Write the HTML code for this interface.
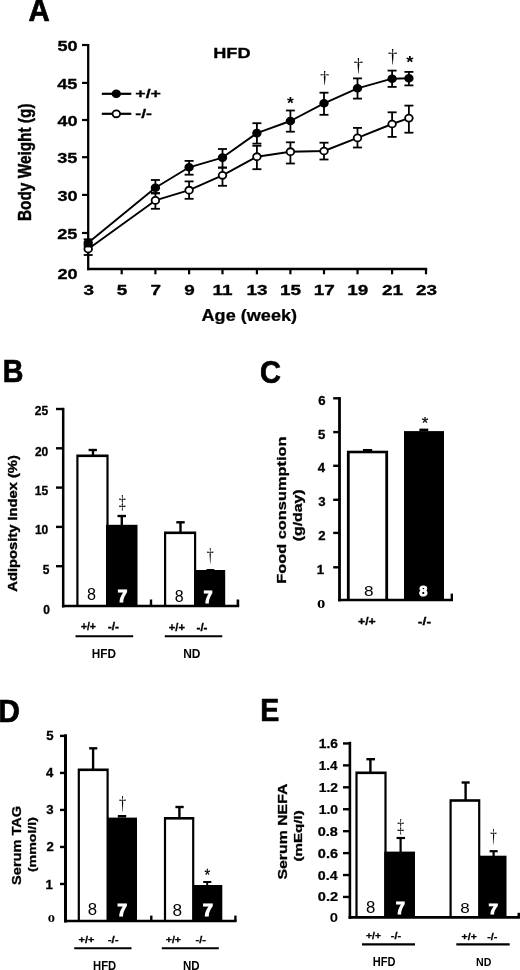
<!DOCTYPE html>
<html lang="en"><head><meta charset="utf-8"><title>Figure</title>
<style>html,body{margin:0;padding:0;background:#fff}svg{display:block}text{white-space:pre}</style></head>
<body><svg width="520" height="970" viewBox="0 0 520 970">
<rect width="520" height="970" fill="#fff"/>
<g id="panelA">
<text transform="translate(28.56,21.30) scale(0.931,1)" font-family='"Liberation Sans", Arial, sans-serif' font-size="31.59" font-weight="bold" fill="#000" stroke="#000" stroke-width="0.7">A</text>
<line x1="88.20" y1="44.00" x2="88.20" y2="270.15" stroke="#000" stroke-width="2.3" stroke-linecap="butt"/>
<line x1="87.05" y1="268.90" x2="427.20" y2="268.90" stroke="#000" stroke-width="2.5" stroke-linecap="butt"/>
<line x1="82.00" y1="45.00" x2="88.20" y2="45.00" stroke="#000" stroke-width="2.2" stroke-linecap="butt"/>
<text transform="translate(57.50,51.21) scale(1.300,1)" font-family='"Liberation Sans", Arial, sans-serif' font-size="13.94" font-weight="bold" fill="#000" stroke="#000" stroke-width="0.3">50</text>
<line x1="82.00" y1="82.90" x2="88.20" y2="82.90" stroke="#000" stroke-width="2.2" stroke-linecap="butt"/>
<text transform="translate(57.23,89.11) scale(1.300,1)" font-family='"Liberation Sans", Arial, sans-serif' font-size="13.94" font-weight="bold" fill="#000" stroke="#000" stroke-width="0.3">45</text>
<line x1="82.00" y1="120.00" x2="88.20" y2="120.00" stroke="#000" stroke-width="2.2" stroke-linecap="butt"/>
<text transform="translate(57.50,126.21) scale(1.300,1)" font-family='"Liberation Sans", Arial, sans-serif' font-size="13.94" font-weight="bold" fill="#000" stroke="#000" stroke-width="0.3">40</text>
<line x1="82.00" y1="157.20" x2="88.20" y2="157.20" stroke="#000" stroke-width="2.2" stroke-linecap="butt"/>
<text transform="translate(57.23,163.41) scale(1.300,1)" font-family='"Liberation Sans", Arial, sans-serif' font-size="13.94" font-weight="bold" fill="#000" stroke="#000" stroke-width="0.3">35</text>
<line x1="82.00" y1="194.90" x2="88.20" y2="194.90" stroke="#000" stroke-width="2.2" stroke-linecap="butt"/>
<text transform="translate(57.50,201.11) scale(1.300,1)" font-family='"Liberation Sans", Arial, sans-serif' font-size="13.94" font-weight="bold" fill="#000" stroke="#000" stroke-width="0.3">30</text>
<line x1="82.00" y1="233.00" x2="88.20" y2="233.00" stroke="#000" stroke-width="2.2" stroke-linecap="butt"/>
<text transform="translate(57.23,239.21) scale(1.300,1)" font-family='"Liberation Sans", Arial, sans-serif' font-size="13.94" font-weight="bold" fill="#000" stroke="#000" stroke-width="0.3">25</text>
<text transform="translate(57.50,279.41) scale(1.300,1)" font-family='"Liberation Sans", Arial, sans-serif' font-size="13.94" font-weight="bold" fill="#000" stroke="#000" stroke-width="0.3">20</text>
<text transform="translate(83.44,295.41) scale(1.330,1)" font-family='"Liberation Sans", Arial, sans-serif' font-size="14.23" font-weight="bold" fill="#000" stroke="#000" stroke-width="0.3">3</text>
<line x1="121.70" y1="268.90" x2="121.70" y2="274.30" stroke="#000" stroke-width="2.2" stroke-linecap="butt"/>
<text transform="translate(116.80,295.41) scale(1.330,1)" font-family='"Liberation Sans", Arial, sans-serif' font-size="14.23" font-weight="bold" fill="#000" stroke="#000" stroke-width="0.3">5</text>
<line x1="155.40" y1="268.90" x2="155.40" y2="274.30" stroke="#000" stroke-width="2.2" stroke-linecap="butt"/>
<text transform="translate(150.55,295.41) scale(1.330,1)" font-family='"Liberation Sans", Arial, sans-serif' font-size="14.23" font-weight="bold" fill="#000" stroke="#000" stroke-width="0.3">7</text>
<line x1="189.10" y1="268.90" x2="189.10" y2="274.30" stroke="#000" stroke-width="2.2" stroke-linecap="butt"/>
<text transform="translate(184.25,295.41) scale(1.330,1)" font-family='"Liberation Sans", Arial, sans-serif' font-size="14.23" font-weight="bold" fill="#000" stroke="#000" stroke-width="0.3">9</text>
<line x1="222.50" y1="268.90" x2="222.50" y2="274.30" stroke="#000" stroke-width="2.2" stroke-linecap="butt"/>
<text transform="translate(212.59,295.41) scale(1.330,1)" font-family='"Liberation Sans", Arial, sans-serif' font-size="14.23" font-weight="bold" fill="#000" stroke="#000" stroke-width="0.3">11</text>
<line x1="256.90" y1="268.90" x2="256.90" y2="274.30" stroke="#000" stroke-width="2.2" stroke-linecap="butt"/>
<text transform="translate(246.56,295.41) scale(1.330,1)" font-family='"Liberation Sans", Arial, sans-serif' font-size="14.23" font-weight="bold" fill="#000" stroke="#000" stroke-width="0.3">13</text>
<line x1="290.40" y1="268.90" x2="290.40" y2="274.30" stroke="#000" stroke-width="2.2" stroke-linecap="butt"/>
<text transform="translate(279.97,295.41) scale(1.330,1)" font-family='"Liberation Sans", Arial, sans-serif' font-size="14.23" font-weight="bold" fill="#000" stroke="#000" stroke-width="0.3">15</text>
<line x1="324.00" y1="268.90" x2="324.00" y2="274.30" stroke="#000" stroke-width="2.2" stroke-linecap="butt"/>
<text transform="translate(313.71,295.41) scale(1.330,1)" font-family='"Liberation Sans", Arial, sans-serif' font-size="14.23" font-weight="bold" fill="#000" stroke="#000" stroke-width="0.3">17</text>
<line x1="357.50" y1="268.90" x2="357.50" y2="274.30" stroke="#000" stroke-width="2.2" stroke-linecap="butt"/>
<text transform="translate(347.16,295.41) scale(1.330,1)" font-family='"Liberation Sans", Arial, sans-serif' font-size="14.23" font-weight="bold" fill="#000" stroke="#000" stroke-width="0.3">19</text>
<line x1="392.10" y1="268.90" x2="392.10" y2="274.30" stroke="#000" stroke-width="2.2" stroke-linecap="butt"/>
<text transform="translate(381.90,295.41) scale(1.330,1)" font-family='"Liberation Sans", Arial, sans-serif' font-size="14.23" font-weight="bold" fill="#000" stroke="#000" stroke-width="0.3">21</text>
<line x1="426.00" y1="268.90" x2="426.00" y2="274.30" stroke="#000" stroke-width="2.2" stroke-linecap="butt"/>
<text transform="translate(415.90,295.41) scale(1.330,1)" font-family='"Liberation Sans", Arial, sans-serif' font-size="14.23" font-weight="bold" fill="#000" stroke="#000" stroke-width="0.3">23</text>
<text transform="translate(201.55,321.00) scale(1.161,1)" font-family='"Liberation Sans", Arial, sans-serif' font-size="15.59" font-weight="bold" fill="#000" stroke="#000" stroke-width="0.25">Age (week)</text>
<text transform="translate(30.50,221.00) rotate(-90) scale(0.839,1)" font-family='"Liberation Sans", Arial, sans-serif' font-size="18.34" font-weight="bold" fill="#000" stroke="#000" stroke-width="0.45">Body Weight (g)</text>
<text transform="translate(213.22,57.80) scale(1.228,1)" font-family='"Liberation Sans", Arial, sans-serif' font-size="14.78" font-weight="bold" fill="#000" stroke="#000" stroke-width="0.3">HFD</text>
<line x1="101.80" y1="93.80" x2="131.30" y2="93.80" stroke="#000" stroke-width="2.2" stroke-linecap="butt"/>
<ellipse cx="116.30" cy="93.80" rx="4.0" ry="3.6" fill="#000" stroke="#000" stroke-width="1.4"/>
<line x1="101.80" y1="113.80" x2="131.30" y2="113.80" stroke="#000" stroke-width="2.2" stroke-linecap="butt"/>
<ellipse cx="116.30" cy="113.80" rx="3.8" ry="3.45" fill="#fff" stroke="#000" stroke-width="1.8"/>
<text transform="translate(135.29,98.35) scale(1.405,1)" font-family='"Liberation Sans", Arial, sans-serif' font-size="12.62" font-weight="bold" fill="#000" stroke="#000" stroke-width="0.3">+/+</text>
<text transform="translate(135.29,118.35) scale(1.402,1)" font-family='"Liberation Sans", Arial, sans-serif' font-size="12.62" font-weight="bold" fill="#000" stroke="#000" stroke-width="0.3">-/-</text>
<line x1="88.20" y1="245.00" x2="88.20" y2="255.00" stroke="#000" stroke-width="1.8" stroke-linecap="butt"/>
<line x1="83.70" y1="245.00" x2="92.70" y2="245.00" stroke="#000" stroke-width="1.8" stroke-linecap="butt"/>
<line x1="83.70" y1="255.00" x2="92.70" y2="255.00" stroke="#000" stroke-width="1.8" stroke-linecap="butt"/>
<line x1="155.40" y1="193.00" x2="155.40" y2="208.80" stroke="#000" stroke-width="1.8" stroke-linecap="butt"/>
<line x1="150.90" y1="193.00" x2="159.90" y2="193.00" stroke="#000" stroke-width="1.8" stroke-linecap="butt"/>
<line x1="150.90" y1="208.80" x2="159.90" y2="208.80" stroke="#000" stroke-width="1.8" stroke-linecap="butt"/>
<line x1="189.10" y1="181.40" x2="189.10" y2="198.80" stroke="#000" stroke-width="1.8" stroke-linecap="butt"/>
<line x1="184.60" y1="181.40" x2="193.60" y2="181.40" stroke="#000" stroke-width="1.8" stroke-linecap="butt"/>
<line x1="184.60" y1="198.80" x2="193.60" y2="198.80" stroke="#000" stroke-width="1.8" stroke-linecap="butt"/>
<line x1="222.50" y1="167.60" x2="222.50" y2="185.80" stroke="#000" stroke-width="1.8" stroke-linecap="butt"/>
<line x1="218.00" y1="167.60" x2="227.00" y2="167.60" stroke="#000" stroke-width="1.8" stroke-linecap="butt"/>
<line x1="218.00" y1="185.80" x2="227.00" y2="185.80" stroke="#000" stroke-width="1.8" stroke-linecap="butt"/>
<line x1="256.90" y1="145.80" x2="256.90" y2="169.20" stroke="#000" stroke-width="1.8" stroke-linecap="butt"/>
<line x1="252.40" y1="145.80" x2="261.40" y2="145.80" stroke="#000" stroke-width="1.8" stroke-linecap="butt"/>
<line x1="252.40" y1="169.20" x2="261.40" y2="169.20" stroke="#000" stroke-width="1.8" stroke-linecap="butt"/>
<line x1="290.40" y1="142.30" x2="290.40" y2="163.50" stroke="#000" stroke-width="1.8" stroke-linecap="butt"/>
<line x1="285.90" y1="142.30" x2="294.90" y2="142.30" stroke="#000" stroke-width="1.8" stroke-linecap="butt"/>
<line x1="285.90" y1="163.50" x2="294.90" y2="163.50" stroke="#000" stroke-width="1.8" stroke-linecap="butt"/>
<line x1="324.00" y1="142.70" x2="324.00" y2="159.50" stroke="#000" stroke-width="1.8" stroke-linecap="butt"/>
<line x1="319.50" y1="142.70" x2="328.50" y2="142.70" stroke="#000" stroke-width="1.8" stroke-linecap="butt"/>
<line x1="319.50" y1="159.50" x2="328.50" y2="159.50" stroke="#000" stroke-width="1.8" stroke-linecap="butt"/>
<line x1="357.50" y1="127.90" x2="357.50" y2="147.50" stroke="#000" stroke-width="1.8" stroke-linecap="butt"/>
<line x1="353.00" y1="127.90" x2="362.00" y2="127.90" stroke="#000" stroke-width="1.8" stroke-linecap="butt"/>
<line x1="353.00" y1="147.50" x2="362.00" y2="147.50" stroke="#000" stroke-width="1.8" stroke-linecap="butt"/>
<line x1="392.10" y1="112.30" x2="392.10" y2="136.90" stroke="#000" stroke-width="1.8" stroke-linecap="butt"/>
<line x1="387.60" y1="112.30" x2="396.60" y2="112.30" stroke="#000" stroke-width="1.8" stroke-linecap="butt"/>
<line x1="387.60" y1="136.90" x2="396.60" y2="136.90" stroke="#000" stroke-width="1.8" stroke-linecap="butt"/>
<line x1="408.90" y1="105.60" x2="408.90" y2="132.70" stroke="#000" stroke-width="1.8" stroke-linecap="butt"/>
<line x1="404.40" y1="105.60" x2="413.40" y2="105.60" stroke="#000" stroke-width="1.8" stroke-linecap="butt"/>
<line x1="404.40" y1="132.70" x2="413.40" y2="132.70" stroke="#000" stroke-width="1.8" stroke-linecap="butt"/>
<polyline fill="none" stroke="#000" stroke-width="1.9" stroke-linejoin="round" points="88.20,249.00 155.40,200.40 189.10,190.20 222.50,175.30 256.90,156.70 290.40,151.70 324.00,151.00 357.50,137.90 392.10,124.00 408.90,118.10"/>
<ellipse cx="88.20" cy="249.00" rx="3.8" ry="3.45" fill="#fff" stroke="#000" stroke-width="1.8"/>
<ellipse cx="155.40" cy="200.40" rx="3.8" ry="3.45" fill="#fff" stroke="#000" stroke-width="1.8"/>
<ellipse cx="189.10" cy="190.20" rx="3.8" ry="3.45" fill="#fff" stroke="#000" stroke-width="1.8"/>
<ellipse cx="222.50" cy="175.30" rx="3.8" ry="3.45" fill="#fff" stroke="#000" stroke-width="1.8"/>
<ellipse cx="256.90" cy="156.70" rx="3.8" ry="3.45" fill="#fff" stroke="#000" stroke-width="1.8"/>
<ellipse cx="290.40" cy="151.70" rx="3.8" ry="3.45" fill="#fff" stroke="#000" stroke-width="1.8"/>
<ellipse cx="324.00" cy="151.00" rx="3.8" ry="3.45" fill="#fff" stroke="#000" stroke-width="1.8"/>
<ellipse cx="357.50" cy="137.90" rx="3.8" ry="3.45" fill="#fff" stroke="#000" stroke-width="1.8"/>
<ellipse cx="392.10" cy="124.00" rx="3.8" ry="3.45" fill="#fff" stroke="#000" stroke-width="1.8"/>
<ellipse cx="408.90" cy="118.10" rx="3.8" ry="3.45" fill="#fff" stroke="#000" stroke-width="1.8"/>
<line x1="88.20" y1="239.30" x2="88.20" y2="246.50" stroke="#000" stroke-width="1.8" stroke-linecap="butt"/>
<line x1="83.70" y1="239.30" x2="92.70" y2="239.30" stroke="#000" stroke-width="1.8" stroke-linecap="butt"/>
<line x1="83.70" y1="246.50" x2="92.70" y2="246.50" stroke="#000" stroke-width="1.8" stroke-linecap="butt"/>
<line x1="155.40" y1="180.00" x2="155.40" y2="193.50" stroke="#000" stroke-width="1.8" stroke-linecap="butt"/>
<line x1="150.90" y1="180.00" x2="159.90" y2="180.00" stroke="#000" stroke-width="1.8" stroke-linecap="butt"/>
<line x1="150.90" y1="193.50" x2="159.90" y2="193.50" stroke="#000" stroke-width="1.8" stroke-linecap="butt"/>
<line x1="189.10" y1="160.90" x2="189.10" y2="174.70" stroke="#000" stroke-width="1.8" stroke-linecap="butt"/>
<line x1="184.60" y1="160.90" x2="193.60" y2="160.90" stroke="#000" stroke-width="1.8" stroke-linecap="butt"/>
<line x1="184.60" y1="174.70" x2="193.60" y2="174.70" stroke="#000" stroke-width="1.8" stroke-linecap="butt"/>
<line x1="222.50" y1="149.00" x2="222.50" y2="167.60" stroke="#000" stroke-width="1.8" stroke-linecap="butt"/>
<line x1="218.00" y1="149.00" x2="227.00" y2="149.00" stroke="#000" stroke-width="1.8" stroke-linecap="butt"/>
<line x1="218.00" y1="167.60" x2="227.00" y2="167.60" stroke="#000" stroke-width="1.8" stroke-linecap="butt"/>
<line x1="256.90" y1="123.20" x2="256.90" y2="143.60" stroke="#000" stroke-width="1.8" stroke-linecap="butt"/>
<line x1="252.40" y1="123.20" x2="261.40" y2="123.20" stroke="#000" stroke-width="1.8" stroke-linecap="butt"/>
<line x1="252.40" y1="143.60" x2="261.40" y2="143.60" stroke="#000" stroke-width="1.8" stroke-linecap="butt"/>
<line x1="290.40" y1="110.50" x2="290.40" y2="131.70" stroke="#000" stroke-width="1.8" stroke-linecap="butt"/>
<line x1="285.90" y1="110.50" x2="294.90" y2="110.50" stroke="#000" stroke-width="1.8" stroke-linecap="butt"/>
<line x1="285.90" y1="131.70" x2="294.90" y2="131.70" stroke="#000" stroke-width="1.8" stroke-linecap="butt"/>
<line x1="324.00" y1="92.70" x2="324.00" y2="114.80" stroke="#000" stroke-width="1.8" stroke-linecap="butt"/>
<line x1="319.50" y1="92.70" x2="328.50" y2="92.70" stroke="#000" stroke-width="1.8" stroke-linecap="butt"/>
<line x1="319.50" y1="114.80" x2="328.50" y2="114.80" stroke="#000" stroke-width="1.8" stroke-linecap="butt"/>
<line x1="357.50" y1="78.40" x2="357.50" y2="98.60" stroke="#000" stroke-width="1.8" stroke-linecap="butt"/>
<line x1="353.00" y1="78.40" x2="362.00" y2="78.40" stroke="#000" stroke-width="1.8" stroke-linecap="butt"/>
<line x1="353.00" y1="98.60" x2="362.00" y2="98.60" stroke="#000" stroke-width="1.8" stroke-linecap="butt"/>
<line x1="392.10" y1="70.60" x2="392.10" y2="86.90" stroke="#000" stroke-width="1.8" stroke-linecap="butt"/>
<line x1="387.60" y1="70.60" x2="396.60" y2="70.60" stroke="#000" stroke-width="1.8" stroke-linecap="butt"/>
<line x1="387.60" y1="86.90" x2="396.60" y2="86.90" stroke="#000" stroke-width="1.8" stroke-linecap="butt"/>
<line x1="408.90" y1="71.90" x2="408.90" y2="85.40" stroke="#000" stroke-width="1.8" stroke-linecap="butt"/>
<line x1="404.40" y1="71.90" x2="413.40" y2="71.90" stroke="#000" stroke-width="1.8" stroke-linecap="butt"/>
<line x1="404.40" y1="85.40" x2="413.40" y2="85.40" stroke="#000" stroke-width="1.8" stroke-linecap="butt"/>
<polyline fill="none" stroke="#000" stroke-width="1.9" stroke-linejoin="round" points="88.20,242.80 155.40,187.70 189.10,167.30 222.50,157.60 256.90,133.10 290.40,121.00 324.00,103.30 357.50,88.30 392.10,78.70 408.90,78.30"/>
<ellipse cx="88.20" cy="242.80" rx="4.0" ry="3.6" fill="#000" stroke="#000" stroke-width="1.4"/>
<ellipse cx="155.40" cy="187.70" rx="4.0" ry="3.6" fill="#000" stroke="#000" stroke-width="1.4"/>
<ellipse cx="189.10" cy="167.30" rx="4.0" ry="3.6" fill="#000" stroke="#000" stroke-width="1.4"/>
<ellipse cx="222.50" cy="157.60" rx="4.0" ry="3.6" fill="#000" stroke="#000" stroke-width="1.4"/>
<ellipse cx="256.90" cy="133.10" rx="4.0" ry="3.6" fill="#000" stroke="#000" stroke-width="1.4"/>
<ellipse cx="290.40" cy="121.00" rx="4.0" ry="3.6" fill="#000" stroke="#000" stroke-width="1.4"/>
<ellipse cx="324.00" cy="103.30" rx="4.0" ry="3.6" fill="#000" stroke="#000" stroke-width="1.4"/>
<ellipse cx="357.50" cy="88.30" rx="4.0" ry="3.6" fill="#000" stroke="#000" stroke-width="1.4"/>
<ellipse cx="392.10" cy="78.70" rx="4.0" ry="3.6" fill="#000" stroke="#000" stroke-width="1.4"/>
<ellipse cx="408.90" cy="78.30" rx="4.0" ry="3.6" fill="#000" stroke="#000" stroke-width="1.4"/>
<text transform="translate(287.11,108.88) scale(1.053,1)" font-family='"Liberation Sans", Arial, sans-serif' font-size="16.49" font-weight="bold" fill="#000">*</text>
<text transform="translate(406.31,67.76) scale(1.099,1)" font-family='"Liberation Sans", Arial, sans-serif' font-size="16.76" font-weight="bold" fill="#000">*</text>
<text transform="translate(320.04,83.05) scale(1.102,1)" font-family='"Liberation Serif", "Times New Roman", serif' font-size="16.91" font-weight="normal" fill="#000">†</text>
<text transform="translate(353.64,70.70) scale(1.020,1)" font-family='"Liberation Serif", "Times New Roman", serif' font-size="18.27" font-weight="normal" fill="#000">†</text>
<text transform="translate(388.04,62.01) scale(0.980,1)" font-family='"Liberation Serif", "Times New Roman", serif' font-size="19.01" font-weight="normal" fill="#000">†</text>
</g>
<g id="panelB">
<text transform="translate(2.64,382.40) scale(0.912,1)" font-family='"Liberation Sans", Arial, sans-serif' font-size="31.45" font-weight="bold" fill="#000" stroke="#000" stroke-width="0.7">B</text>
<rect x="76.30" y="454.50" width="32.30" height="151.50" fill="#000"/>
<rect x="78.50" y="457.10" width="27.90" height="148.90" fill="#fff"/>
<line x1="93.00" y1="450.00" x2="93.00" y2="455.50" stroke="#000" stroke-width="2.4" stroke-linecap="butt"/>
<line x1="88.60" y1="450.00" x2="96.90" y2="450.00" stroke="#000" stroke-width="2.4" stroke-linecap="butt"/>
<rect x="106.00" y="524.80" width="31.50" height="81.20" fill="#000"/>
<line x1="121.80" y1="516.00" x2="121.80" y2="526.00" stroke="#000" stroke-width="2.4" stroke-linecap="butt"/>
<line x1="117.50" y1="516.00" x2="126.00" y2="516.00" stroke="#000" stroke-width="2.4" stroke-linecap="butt"/>
<rect x="164.00" y="531.50" width="32.20" height="74.50" fill="#000"/>
<rect x="166.20" y="534.10" width="27.80" height="71.90" fill="#fff"/>
<line x1="180.50" y1="522.30" x2="180.50" y2="532.00" stroke="#000" stroke-width="2.4" stroke-linecap="butt"/>
<line x1="176.30" y1="522.30" x2="184.70" y2="522.30" stroke="#000" stroke-width="2.4" stroke-linecap="butt"/>
<rect x="195.50" y="570.00" width="29.70" height="36.00" fill="#000"/>
<line x1="206.50" y1="569.70" x2="214.30" y2="569.70" stroke="#000" stroke-width="1.4" stroke-linecap="butt"/>
<line x1="63.20" y1="407.80" x2="63.20" y2="607.50" stroke="#000" stroke-width="2.5" stroke-linecap="butt"/>
<line x1="61.95" y1="606.00" x2="239.20" y2="606.00" stroke="#000" stroke-width="2.6" stroke-linecap="butt"/>
<line x1="151.00" y1="599.50" x2="151.00" y2="606.00" stroke="#000" stroke-width="2.4" stroke-linecap="butt"/>
<line x1="237.90" y1="599.50" x2="237.90" y2="606.00" stroke="#000" stroke-width="2.6" stroke-linecap="butt"/>
<line x1="56.00" y1="409.00" x2="63.20" y2="409.00" stroke="#000" stroke-width="2.4" stroke-linecap="butt"/>
<text transform="translate(34.76,415.48) scale(0.970,1)" font-family='"Liberation Sans", Arial, sans-serif' font-size="12.39" font-weight="bold" fill="#000" stroke="#000" stroke-width="0.3">25</text>
<line x1="56.00" y1="448.30" x2="63.20" y2="448.30" stroke="#000" stroke-width="2.4" stroke-linecap="butt"/>
<text transform="translate(34.94,455.68) scale(0.970,1)" font-family='"Liberation Sans", Arial, sans-serif' font-size="12.39" font-weight="bold" fill="#000" stroke="#000" stroke-width="0.3">20</text>
<line x1="56.00" y1="487.60" x2="63.20" y2="487.60" stroke="#000" stroke-width="2.4" stroke-linecap="butt"/>
<text transform="translate(34.76,494.98) scale(0.970,1)" font-family='"Liberation Sans", Arial, sans-serif' font-size="12.39" font-weight="bold" fill="#000" stroke="#000" stroke-width="0.3">15</text>
<line x1="56.00" y1="526.90" x2="63.20" y2="526.90" stroke="#000" stroke-width="2.4" stroke-linecap="butt"/>
<text transform="translate(34.94,534.28) scale(0.970,1)" font-family='"Liberation Sans", Arial, sans-serif' font-size="12.39" font-weight="bold" fill="#000" stroke="#000" stroke-width="0.3">10</text>
<line x1="56.00" y1="566.20" x2="63.20" y2="566.20" stroke="#000" stroke-width="2.4" stroke-linecap="butt"/>
<text transform="translate(42.63,573.58) scale(0.970,1)" font-family='"Liberation Sans", Arial, sans-serif' font-size="12.39" font-weight="bold" fill="#000" stroke="#000" stroke-width="0.3">5</text>
<text transform="translate(43.31,613.58) scale(0.970,1)" font-family='"Liberation Sans", Arial, sans-serif' font-size="12.39" font-weight="bold" fill="#000" stroke="#000" stroke-width="0.3">0</text>
<text transform="translate(17.20,591.67) rotate(-90) scale(1.148,1)" font-family='"Liberation Sans", Arial, sans-serif' font-size="12.83" font-weight="bold" fill="#000" stroke="#000" stroke-width="0.35">Adiposity Index (%)</text>
<text transform="translate(87.07,600.34) scale(1.025,1)" font-family='"Liberation Sans", Arial, sans-serif' font-size="15.77" font-weight="normal" fill="#000">8</text>
<text transform="translate(174.78,602.13) scale(0.952,1)" font-family='"Liberation Sans", Arial, sans-serif' font-size="16.76" font-weight="normal" fill="#000">8</text>
<text transform="translate(117.87,602.15) scale(0.981,1)" font-family='"Liberation Sans", Arial, sans-serif' font-size="17.39" font-weight="bold" fill="#fff" stroke="#fff" stroke-width="1.2">7</text>
<text transform="translate(203.73,602.95) scale(0.927,1)" font-family='"Liberation Sans", Arial, sans-serif' font-size="16.81" font-weight="bold" fill="#fff" stroke="#fff" stroke-width="1.2">7</text>
<text transform="translate(118.84,508.39) scale(0.740,1)" font-family='"Liberation Serif", "Times New Roman", serif' font-size="19.26" font-weight="normal" fill="#000">‡</text>
<text transform="translate(206.73,560.84) scale(0.740,1)" font-family='"Liberation Serif", "Times New Roman", serif' font-size="18.77" font-weight="normal" fill="#000">†</text>
<text transform="translate(80.88,630.40) scale(1.020,1)" font-family='"Liberation Sans", Arial, sans-serif' font-size="10.20" font-weight="bold" fill="#000" stroke="#000" stroke-width="0.3">+/+</text>
<text transform="translate(107.72,630.40) scale(1.179,1)" font-family='"Liberation Sans", Arial, sans-serif' font-size="10.20" font-weight="bold" fill="#000" stroke="#000" stroke-width="0.3">-/-</text>
<text transform="translate(168.85,631.09) scale(1.077,1)" font-family='"Liberation Sans", Arial, sans-serif' font-size="10.34" font-weight="bold" fill="#000" stroke="#000" stroke-width="0.3">+/+</text>
<text transform="translate(196.54,631.09) scale(1.119,1)" font-family='"Liberation Sans", Arial, sans-serif' font-size="10.34" font-weight="bold" fill="#000" stroke="#000" stroke-width="0.3">-/-</text>
<line x1="75.50" y1="636.20" x2="133.20" y2="636.20" stroke="#000" stroke-width="2" stroke-linecap="butt"/>
<line x1="164.80" y1="636.20" x2="222.30" y2="636.20" stroke="#000" stroke-width="2" stroke-linecap="butt"/>
<text transform="translate(91.73,658.20) scale(0.969,1)" font-family='"Liberation Sans", Arial, sans-serif' font-size="12.17" font-weight="bold" fill="#000">HFD</text>
<text transform="translate(183.22,658.20) scale(0.919,1)" font-family='"Liberation Sans", Arial, sans-serif' font-size="13.04" font-weight="bold" fill="#000">ND</text>
</g>
<g id="panelC">
<text transform="translate(259.94,382.68) scale(0.907,1)" font-family='"Liberation Sans", Arial, sans-serif' font-size="31.97" font-weight="bold" fill="#000" stroke="#000" stroke-width="0.7">C</text>
<rect x="346.90" y="450.70" width="41.20" height="149.30" fill="#000"/>
<rect x="349.70" y="453.30" width="35.60" height="146.70" fill="#fff"/>
<line x1="363.00" y1="450.00" x2="372.20" y2="450.00" stroke="#000" stroke-width="2" stroke-linecap="butt"/>
<rect x="404.00" y="431.10" width="40.00" height="168.90" fill="#000"/>
<line x1="419.40" y1="429.90" x2="428.30" y2="429.90" stroke="#000" stroke-width="2.6" stroke-linecap="butt"/>
<line x1="339.50" y1="397.10" x2="339.50" y2="601.35" stroke="#000" stroke-width="2.8" stroke-linecap="butt"/>
<line x1="338.10" y1="600.00" x2="453.00" y2="600.00" stroke="#000" stroke-width="2.7" stroke-linecap="butt"/>
<line x1="451.80" y1="593.60" x2="451.80" y2="600.00" stroke="#000" stroke-width="2.4" stroke-linecap="butt"/>
<line x1="333.20" y1="567.30" x2="339.50" y2="567.30" stroke="#000" stroke-width="2.4" stroke-linecap="butt"/>
<text transform="translate(316.82,573.93) scale(1.100,1)" font-family='"Liberation Sans", Arial, sans-serif' font-size="11.97" font-weight="bold" fill="#000" stroke="#000" stroke-width="0.3">1</text>
<line x1="333.20" y1="532.90" x2="339.50" y2="532.90" stroke="#000" stroke-width="2.4" stroke-linecap="butt"/>
<text transform="translate(318.22,539.53) scale(1.100,1)" font-family='"Liberation Sans", Arial, sans-serif' font-size="11.97" font-weight="bold" fill="#000" stroke="#000" stroke-width="0.3">2</text>
<line x1="333.20" y1="499.80" x2="339.50" y2="499.80" stroke="#000" stroke-width="2.4" stroke-linecap="butt"/>
<text transform="translate(318.15,506.43) scale(1.100,1)" font-family='"Liberation Sans", Arial, sans-serif' font-size="11.97" font-weight="bold" fill="#000" stroke="#000" stroke-width="0.3">3</text>
<line x1="333.20" y1="465.80" x2="339.50" y2="465.80" stroke="#000" stroke-width="2.4" stroke-linecap="butt"/>
<text transform="translate(317.76,472.43) scale(1.100,1)" font-family='"Liberation Sans", Arial, sans-serif' font-size="11.97" font-weight="bold" fill="#000" stroke="#000" stroke-width="0.3">4</text>
<line x1="333.20" y1="432.10" x2="339.50" y2="432.10" stroke="#000" stroke-width="2.4" stroke-linecap="butt"/>
<text transform="translate(318.02,438.73) scale(1.100,1)" font-family='"Liberation Sans", Arial, sans-serif' font-size="11.97" font-weight="bold" fill="#000" stroke="#000" stroke-width="0.3">5</text>
<line x1="333.20" y1="398.30" x2="339.50" y2="398.30" stroke="#000" stroke-width="2.4" stroke-linecap="butt"/>
<text transform="translate(318.15,404.93) scale(1.100,1)" font-family='"Liberation Sans", Arial, sans-serif' font-size="11.97" font-weight="bold" fill="#000" stroke="#000" stroke-width="0.3">6</text>
<text transform="translate(316.93,607.68) scale(1.406,1)" font-family='"Liberation Serif", "Times New Roman", serif' font-size="11.85" font-weight="bold" fill="#000">0</text>
<text transform="translate(286.40,583.76) rotate(-90) scale(1.305,1)" font-family='"Liberation Sans", Arial, sans-serif' font-size="12.55" font-weight="bold" fill="#000" stroke="#000" stroke-width="0.3">Food consumption</text>
<text transform="translate(301.68,541.29) rotate(-90) scale(1.323,1)" font-family='"Liberation Sans", Arial, sans-serif' font-size="11.98" font-weight="bold" fill="#000" stroke="#000" stroke-width="0.3">(g/day)</text>
<text transform="translate(363.92,595.75) scale(1.144,1)" font-family='"Liberation Sans", Arial, sans-serif' font-size="15.07" font-weight="normal" fill="#000">8</text>
<text transform="translate(419.26,596.45) scale(0.952,1)" font-family='"Liberation Sans", Arial, sans-serif' font-size="15.49" font-weight="bold" fill="#fff" stroke="#fff" stroke-width="1.0">8</text>
<text transform="translate(421.75,429.03) scale(0.972,1)" font-family='"Liberation Sans", Arial, sans-serif' font-size="17.43" font-weight="normal" fill="#000" stroke="#000" stroke-width="0.25">*</text>
<text transform="translate(358.01,624.59) scale(1.169,1)" font-family='"Liberation Sans", Arial, sans-serif' font-size="10.47" font-weight="bold" fill="#000" stroke="#000" stroke-width="0.3">+/+</text>
<text transform="translate(417.84,624.59) scale(1.347,1)" font-family='"Liberation Sans", Arial, sans-serif' font-size="10.47" font-weight="bold" fill="#000" stroke="#000" stroke-width="0.3">-/-</text>
</g>
<g id="panelD">
<text transform="translate(-1.64,721.70) scale(0.965,1)" font-family='"Liberation Sans", Arial, sans-serif' font-size="31.01" font-weight="bold" fill="#000" stroke="#000" stroke-width="0.7">D</text>
<rect x="77.70" y="768.50" width="31.00" height="152.50" fill="#000"/>
<rect x="79.90" y="771.10" width="26.60" height="149.90" fill="#fff"/>
<line x1="93.10" y1="748.30" x2="93.10" y2="769.00" stroke="#000" stroke-width="2.4" stroke-linecap="butt"/>
<line x1="89.20" y1="748.30" x2="97.30" y2="748.30" stroke="#000" stroke-width="2.4" stroke-linecap="butt"/>
<rect x="107.00" y="817.60" width="30.00" height="103.40" fill="#000"/>
<line x1="117.80" y1="816.30" x2="126.20" y2="816.30" stroke="#000" stroke-width="2.6" stroke-linecap="butt"/>
<rect x="163.90" y="817.00" width="30.40" height="104.00" fill="#000"/>
<rect x="166.10" y="819.60" width="26.00" height="101.40" fill="#fff"/>
<line x1="179.40" y1="807.00" x2="179.40" y2="818.00" stroke="#000" stroke-width="2.4" stroke-linecap="butt"/>
<line x1="175.40" y1="807.00" x2="183.70" y2="807.00" stroke="#000" stroke-width="2.4" stroke-linecap="butt"/>
<rect x="193.60" y="885.00" width="28.70" height="36.00" fill="#000"/>
<line x1="207.20" y1="882.00" x2="207.20" y2="886.00" stroke="#000" stroke-width="2" stroke-linecap="butt"/>
<line x1="203.20" y1="882.00" x2="211.30" y2="882.00" stroke="#000" stroke-width="2" stroke-linecap="butt"/>
<line x1="65.50" y1="734.30" x2="65.50" y2="922.50" stroke="#000" stroke-width="3" stroke-linecap="butt"/>
<line x1="64.20" y1="921.00" x2="236.60" y2="921.00" stroke="#000" stroke-width="2.6" stroke-linecap="butt"/>
<line x1="151.30" y1="915.60" x2="151.30" y2="921.00" stroke="#000" stroke-width="2.4" stroke-linecap="butt"/>
<line x1="235.40" y1="915.60" x2="235.40" y2="921.00" stroke="#000" stroke-width="2.4" stroke-linecap="butt"/>
<line x1="60.00" y1="883.98" x2="65.50" y2="883.98" stroke="#000" stroke-width="2.4" stroke-linecap="butt"/>
<text transform="translate(45.42,888.51) scale(1.100,1)" font-family='"Liberation Sans", Arial, sans-serif' font-size="11.97" font-weight="bold" fill="#000" stroke="#000" stroke-width="0.3">1</text>
<line x1="60.00" y1="846.96" x2="65.50" y2="846.96" stroke="#000" stroke-width="2.4" stroke-linecap="butt"/>
<text transform="translate(46.42,851.49) scale(1.100,1)" font-family='"Liberation Sans", Arial, sans-serif' font-size="11.97" font-weight="bold" fill="#000" stroke="#000" stroke-width="0.3">2</text>
<line x1="60.00" y1="809.94" x2="65.50" y2="809.94" stroke="#000" stroke-width="2.4" stroke-linecap="butt"/>
<text transform="translate(46.35,814.47) scale(1.100,1)" font-family='"Liberation Sans", Arial, sans-serif' font-size="11.97" font-weight="bold" fill="#000" stroke="#000" stroke-width="0.3">3</text>
<line x1="60.00" y1="772.92" x2="65.50" y2="772.92" stroke="#000" stroke-width="2.4" stroke-linecap="butt"/>
<text transform="translate(45.96,777.45) scale(1.100,1)" font-family='"Liberation Sans", Arial, sans-serif' font-size="11.97" font-weight="bold" fill="#000" stroke="#000" stroke-width="0.3">4</text>
<line x1="60.00" y1="735.90" x2="65.50" y2="735.90" stroke="#000" stroke-width="2.4" stroke-linecap="butt"/>
<text transform="translate(46.22,740.43) scale(1.100,1)" font-family='"Liberation Sans", Arial, sans-serif' font-size="11.97" font-weight="bold" fill="#000" stroke="#000" stroke-width="0.3">5</text>
<text transform="translate(47.72,922.30) scale(1.485,1)" font-family='"Liberation Serif", "Times New Roman", serif' font-size="9.78" font-weight="bold" fill="#000">0</text>
<text transform="translate(21.40,884.94) rotate(-90) scale(1.075,1)" font-family='"Liberation Sans", Arial, sans-serif' font-size="13.57" font-weight="bold" fill="#000" stroke="#000" stroke-width="0.3">Serum TAG</text>
<text transform="translate(36.46,872.11) rotate(-90) scale(1.274,1)" font-family='"Liberation Sans", Arial, sans-serif' font-size="11.12" font-weight="bold" fill="#000" stroke="#000" stroke-width="0.3">(mmol/l)</text>
<text transform="translate(87.74,915.24) scale(1.075,1)" font-family='"Liberation Sans", Arial, sans-serif' font-size="15.63" font-weight="normal" fill="#000">8</text>
<text transform="translate(172.42,915.64) scale(1.093,1)" font-family='"Liberation Sans", Arial, sans-serif' font-size="15.77" font-weight="normal" fill="#000">8</text>
<text transform="translate(117.57,915.95) scale(1.051,1)" font-family='"Liberation Sans", Arial, sans-serif' font-size="16.23" font-weight="bold" fill="#fff" stroke="#fff" stroke-width="1.2">7</text>
<text transform="translate(202.94,915.95) scale(1.130,1)" font-family='"Liberation Sans", Arial, sans-serif' font-size="15.65" font-weight="bold" fill="#fff" stroke="#fff" stroke-width="1.2">7</text>
<text transform="translate(118.96,809.30) scale(0.740,1)" font-family='"Liberation Serif", "Times New Roman", serif' font-size="19.14" font-weight="normal" fill="#000">†</text>
<text transform="translate(204.48,880.83) scale(0.888,1)" font-family='"Liberation Sans", Arial, sans-serif' font-size="16.57" font-weight="normal" fill="#000" stroke="#000" stroke-width="0.25">*</text>
<text transform="translate(78.56,943.01) scale(1.170,1)" font-family='"Liberation Sans", Arial, sans-serif' font-size="9.40" font-weight="bold" fill="#000" stroke="#000" stroke-width="0.3">+/+</text>
<text transform="translate(107.74,943.00) scale(1.164,1)" font-family='"Liberation Sans", Arial, sans-serif' font-size="9.93" font-weight="bold" fill="#000" stroke="#000" stroke-width="0.3">-/-</text>
<text transform="translate(165.78,943.01) scale(1.123,1)" font-family='"Liberation Sans", Arial, sans-serif' font-size="9.40" font-weight="bold" fill="#000" stroke="#000" stroke-width="0.3">+/+</text>
<text transform="translate(195.56,943.00) scale(1.117,1)" font-family='"Liberation Sans", Arial, sans-serif' font-size="9.93" font-weight="bold" fill="#000" stroke="#000" stroke-width="0.3">-/-</text>
<line x1="74.20" y1="948.20" x2="131.50" y2="948.20" stroke="#000" stroke-width="2.1" stroke-linecap="butt"/>
<line x1="161.80" y1="948.20" x2="218.80" y2="948.20" stroke="#000" stroke-width="2.1" stroke-linecap="butt"/>
<text transform="translate(93.07,970.00) scale(0.846,1)" font-family='"Liberation Sans", Arial, sans-serif' font-size="13.33" font-weight="bold" fill="#000">HFD</text>
<text transform="translate(183.05,970.00) scale(0.865,1)" font-family='"Liberation Sans", Arial, sans-serif' font-size="13.33" font-weight="bold" fill="#000">ND</text>
</g>
<g id="panelE">
<text transform="translate(260.25,721.40) scale(0.898,1)" font-family='"Liberation Sans", Arial, sans-serif' font-size="31.74" font-weight="bold" fill="#000" stroke="#000" stroke-width="0.7">E</text>
<rect x="355.40" y="771.50" width="31.20" height="145.80" fill="#000"/>
<rect x="357.60" y="774.10" width="26.80" height="143.20" fill="#fff"/>
<line x1="370.40" y1="759.20" x2="370.40" y2="772.00" stroke="#000" stroke-width="2.4" stroke-linecap="butt"/>
<line x1="366.40" y1="759.20" x2="375.00" y2="759.20" stroke="#000" stroke-width="2.4" stroke-linecap="butt"/>
<rect x="384.20" y="851.60" width="30.80" height="65.70" fill="#000"/>
<line x1="400.60" y1="838.00" x2="400.60" y2="852.00" stroke="#000" stroke-width="2.2" stroke-linecap="butt"/>
<line x1="396.60" y1="838.00" x2="405.00" y2="838.00" stroke="#000" stroke-width="2.2" stroke-linecap="butt"/>
<rect x="449.50" y="799.20" width="30.80" height="118.10" fill="#000"/>
<rect x="451.70" y="801.80" width="26.40" height="115.50" fill="#fff"/>
<line x1="465.60" y1="782.50" x2="465.60" y2="800.00" stroke="#000" stroke-width="2.4" stroke-linecap="butt"/>
<line x1="461.60" y1="782.50" x2="469.70" y2="782.50" stroke="#000" stroke-width="2.4" stroke-linecap="butt"/>
<rect x="479.80" y="855.70" width="26.70" height="61.60" fill="#000"/>
<line x1="493.60" y1="851.20" x2="493.60" y2="856.00" stroke="#000" stroke-width="2.2" stroke-linecap="butt"/>
<line x1="489.60" y1="851.20" x2="497.70" y2="851.20" stroke="#000" stroke-width="2.2" stroke-linecap="butt"/>
<line x1="349.90" y1="741.80" x2="349.90" y2="918.90" stroke="#000" stroke-width="2.6" stroke-linecap="butt"/>
<line x1="348.60" y1="917.30" x2="520.00" y2="917.30" stroke="#000" stroke-width="2.8" stroke-linecap="butt"/>
<line x1="518.80" y1="912.80" x2="518.80" y2="917.30" stroke="#000" stroke-width="2.6" stroke-linecap="butt"/>
<line x1="343.00" y1="896.96" x2="349.90" y2="896.96" stroke="#000" stroke-width="2.4" stroke-linecap="butt"/>
<text transform="translate(317.82,901.44) scale(1.176,1)" font-family='"Liberation Sans", Arial, sans-serif' font-size="12.39" font-weight="bold" fill="#000" stroke="#000" stroke-width="0.25">0.2</text>
<line x1="343.00" y1="875.03" x2="349.90" y2="875.03" stroke="#000" stroke-width="2.4" stroke-linecap="butt"/>
<text transform="translate(317.83,879.51) scale(1.146,1)" font-family='"Liberation Sans", Arial, sans-serif' font-size="12.39" font-weight="bold" fill="#000" stroke="#000" stroke-width="0.25">0.4</text>
<line x1="343.00" y1="853.10" x2="349.90" y2="853.10" stroke="#000" stroke-width="2.4" stroke-linecap="butt"/>
<text transform="translate(317.82,857.58) scale(1.172,1)" font-family='"Liberation Sans", Arial, sans-serif' font-size="12.39" font-weight="bold" fill="#000" stroke="#000" stroke-width="0.25">0.6</text>
<line x1="343.00" y1="831.17" x2="349.90" y2="831.17" stroke="#000" stroke-width="2.4" stroke-linecap="butt"/>
<text transform="translate(317.82,835.65) scale(1.167,1)" font-family='"Liberation Sans", Arial, sans-serif' font-size="12.39" font-weight="bold" fill="#000" stroke="#000" stroke-width="0.25">0.8</text>
<line x1="343.00" y1="809.24" x2="349.90" y2="809.24" stroke="#000" stroke-width="2.4" stroke-linecap="butt"/>
<text transform="translate(318.77,813.72) scale(1.120,1)" font-family='"Liberation Sans", Arial, sans-serif' font-size="12.39" font-weight="bold" fill="#000" stroke="#000" stroke-width="0.25">1.0</text>
<line x1="343.00" y1="787.31" x2="349.90" y2="787.31" stroke="#000" stroke-width="2.4" stroke-linecap="butt"/>
<text transform="translate(318.77,791.91) scale(1.104,1)" font-family='"Liberation Sans", Arial, sans-serif' font-size="12.57" font-weight="bold" fill="#000" stroke="#000" stroke-width="0.25">1.2</text>
<line x1="343.00" y1="765.38" x2="349.90" y2="765.38" stroke="#000" stroke-width="2.4" stroke-linecap="butt"/>
<text transform="translate(318.79,769.98) scale(1.059,1)" font-family='"Liberation Sans", Arial, sans-serif' font-size="12.75" font-weight="bold" fill="#000" stroke="#000" stroke-width="0.25">1.4</text>
<line x1="343.00" y1="743.45" x2="349.90" y2="743.45" stroke="#000" stroke-width="2.4" stroke-linecap="butt"/>
<text transform="translate(318.77,747.93) scale(1.115,1)" font-family='"Liberation Sans", Arial, sans-serif' font-size="12.39" font-weight="bold" fill="#000" stroke="#000" stroke-width="0.25">1.6</text>
<text transform="translate(329.80,922.18) scale(1.249,1)" font-family='"Liberation Sans", Arial, sans-serif' font-size="11.97" font-weight="bold" fill="#000">0</text>
<text transform="translate(287.20,879.48) rotate(-90) scale(1.179,1)" font-family='"Liberation Sans", Arial, sans-serif' font-size="13.43" font-weight="bold" fill="#000" stroke="#000" stroke-width="0.3">Serum NEFA</text>
<text transform="translate(301.86,861.46) rotate(-90) scale(1.358,1)" font-family='"Liberation Sans", Arial, sans-serif' font-size="11.12" font-weight="bold" fill="#000" stroke="#000" stroke-width="0.3">(mEq/l)</text>
<text transform="translate(365.94,912.94) scale(1.075,1)" font-family='"Liberation Sans", Arial, sans-serif' font-size="15.63" font-weight="normal" fill="#000">8</text>
<text transform="translate(460.13,912.85) scale(1.099,1)" font-family='"Liberation Sans", Arial, sans-serif' font-size="15.49" font-weight="normal" fill="#000">8</text>
<text transform="translate(396.12,914.35) scale(0.973,1)" font-family='"Liberation Sans", Arial, sans-serif' font-size="16.23" font-weight="bold" fill="#fff" stroke="#fff" stroke-width="1.2">7</text>
<text transform="translate(488.79,913.85) scale(1.059,1)" font-family='"Liberation Sans", Arial, sans-serif' font-size="15.51" font-weight="bold" fill="#fff" stroke="#fff" stroke-width="1.2">7</text>
<text transform="translate(397.17,831.87) scale(0.740,1)" font-family='"Liberation Serif", "Times New Roman", serif' font-size="18.52" font-weight="normal" fill="#000">‡</text>
<text transform="translate(490.31,842.36) scale(0.740,1)" font-family='"Liberation Serif", "Times New Roman", serif' font-size="17.78" font-weight="normal" fill="#000">†</text>
<text transform="translate(365.99,939.41) scale(1.069,1)" font-family='"Liberation Sans", Arial, sans-serif' font-size="9.66" font-weight="bold" fill="#000" stroke="#000" stroke-width="0.3">+/+</text>
<text transform="translate(390.86,939.41) scale(1.136,1)" font-family='"Liberation Sans", Arial, sans-serif' font-size="9.66" font-weight="bold" fill="#000" stroke="#000" stroke-width="0.3">-/-</text>
<text transform="translate(461.58,939.81) scale(1.092,1)" font-family='"Liberation Sans", Arial, sans-serif' font-size="9.66" font-weight="bold" fill="#000" stroke="#000" stroke-width="0.3">+/+</text>
<text transform="translate(487.27,939.81) scale(1.112,1)" font-family='"Liberation Sans", Arial, sans-serif' font-size="9.66" font-weight="bold" fill="#000" stroke="#000" stroke-width="0.3">-/-</text>
<line x1="362.00" y1="944.40" x2="415.00" y2="944.40" stroke="#000" stroke-width="2.1" stroke-linecap="butt"/>
<line x1="456.30" y1="944.40" x2="509.70" y2="944.40" stroke="#000" stroke-width="2.1" stroke-linecap="butt"/>
<text transform="translate(372.78,966.20) scale(0.895,1)" font-family='"Liberation Sans", Arial, sans-serif' font-size="12.32" font-weight="bold" fill="#000">HFD</text>
<text transform="translate(476.01,966.00) scale(0.917,1)" font-family='"Liberation Sans", Arial, sans-serif' font-size="11.59" font-weight="bold" fill="#000">ND</text>
</g>
</svg></body></html>
